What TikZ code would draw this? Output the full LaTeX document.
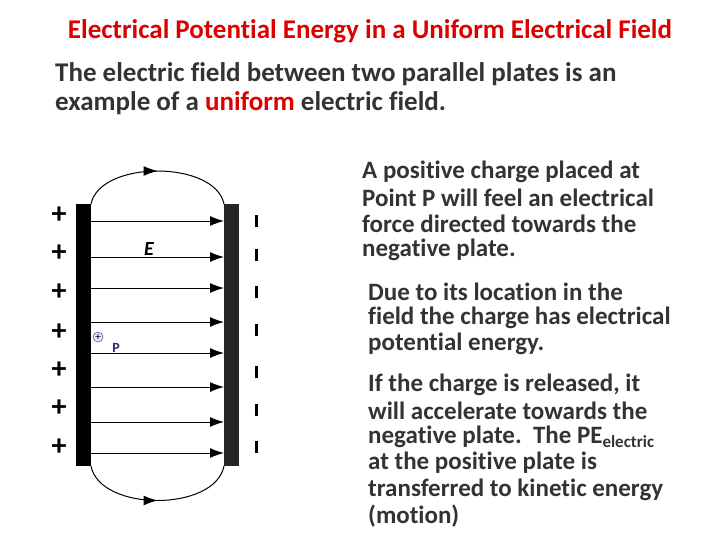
\documentclass[tikz,border=0pt]{standalone}
\usepackage{fontspec}
\setmainfont[Ligatures={NoCommon}]{Carlito}
\usetikzlibrary{arrows.meta,decorations.markings}
\definecolor{tred}{RGB}{220,0,0}
\definecolor{pblue}{RGB}{40,40,130}
\begin{document}
\begin{tikzpicture}[x=1pt,y=-1pt,
  txt/.style={anchor=west,inner sep=0pt,font=\bfseries\fontsize{25}{28}\selectfont,text=black!80},
  intro/.style={txt,font=\bfseries\fontsize{27}{30}\selectfont},
  fline/.style={line width=1pt,-{Latex[length=14pt,width=10pt]}},
  plate/.style={fill=black}]
\useasboundingbox (0,0) rectangle (728,546);
\node[anchor=center,inner sep=0pt,font=\bfseries\fontsize{27}{30}\selectfont,text=tred] (title) at (370,31) {Electrical Potential Energy in a Uniform Electrical Field};
\node[intro] (l1) at (55,74) {The electric field between two parallel plates is an};
\node[intro] (l2) at (55,103) {example of a \textcolor{tred}{uniform} electric field.};
\node[txt] (a1) at (362,172) {A positive charge placed at};
\node[txt] (a2) at (362,198) {Point P will feel an electrical};
\node[txt] (a3) at (362,224) {force directed towards the};
\node[txt] (a4) at (362,250) {negative plate.};
\node[txt] (b1) at (368,292) {Due to its location in the};
\node[txt] (b2) at (368,318) {field the charge has electrical};
\node[txt] (b3) at (368,344) {potential energy.};
\node[txt] (c1) at (368,385) {If the charge is released, it};
\node[txt] (c2) at (368,411) {will accelerate towards the};
\node[txt] (c3) at (368,437) {negative plate.\ \ The PE\textsubscript{\fontsize{17}{17}\selectfont electric}};
\node[txt] (c4) at (368,463) {at the positive plate is};
\node[txt] (c5) at (368,490) {transferred to kinetic energy};
\node[txt] (c6) at (368,516) {(motion)};
% plates
\fill[plate] (76,204) rectangle (91,466);
\fill[black!85] (224,204) rectangle (239,466);
\coordinate (lt) at (91,204); \coordinate (rt) at (224,204);
\coordinate (lb) at (91,466); \coordinate (rb) at (224,466);
\draw[line width=1pt,postaction={decorate},decoration={markings,mark=at position 0.5 with {\arrow{Latex[length=14pt,width=10pt]}}}]
  (lt) .. controls (100,160) and (215,160) .. (rt);
\draw[line width=1pt,postaction={decorate},decoration={markings,mark=at position 0.5 with {\arrow{Latex[length=14pt,width=10pt]}}}]
  (lb) .. controls (100,512) and (215,512) .. (rb);
\foreach \y [count=\i] in {221,257,288,322,353,387,422,453}{
  \coordinate (s\i) at (91,\y); \coordinate (e\i) at (224,\y);
  \draw[fline] (s\i) -- (e\i);}
\foreach \y [count=\i] in {215,253,292,332,370,408,447}{
  \node[font=\bfseries\fontsize{30}{30}\selectfont,inner sep=0pt] (p\i) at (59,\y) {+};}
\foreach \y [count=\i] in {221,255,292,330,372,410,447}{
  \fill (255,\y-6) rectangle (258,\y+6);}
\node[font=\bfseries\itshape\fontsize{20}{20}\selectfont,inner sep=0pt] (E) at (149,249) {E};
\node[circle,draw=pblue,fill=blue!10,inner sep=0pt,minimum size=10pt,font=\fontsize{11}{11}\selectfont] (q) at (98,337) {+};
\node[font=\bfseries\fontsize{14}{14}\selectfont,text=pblue,inner sep=0pt] (P) at (116,348) {P};
\end{tikzpicture}
\end{document}
